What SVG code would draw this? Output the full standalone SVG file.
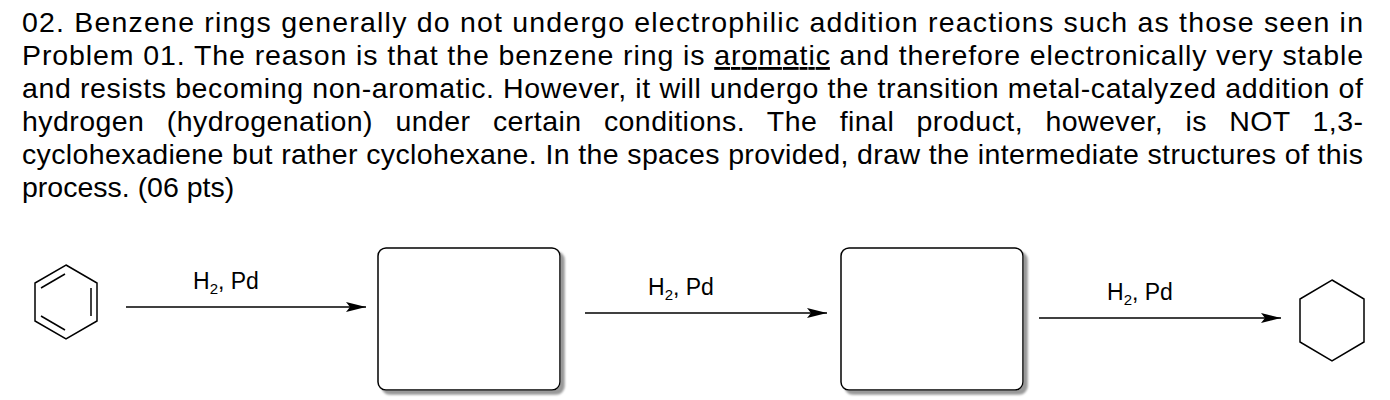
<svg xmlns="http://www.w3.org/2000/svg" width="1390" height="400" viewBox="0 0 1390 400">
<defs>
<marker id="ah" markerWidth="20" markerHeight="10" refX="20" refY="5" orient="auto" markerUnits="userSpaceOnUse"><path d="M0,0 L20,5 L0,10 L4,5 Z" fill="#000"/></marker>
<filter id="sh" x="-10%" y="-10%" width="130%" height="130%"><feDropShadow dx="4" dy="4" stdDeviation="1" flood-color="#999" flood-opacity="1"/></filter>
</defs>
<style>
.t{font-family:"Liberation Sans",Arial,sans-serif;font-size:28.5px;fill:#000}
.l{font-family:"Liberation Sans",Arial,sans-serif;font-size:23px;fill:#000}
.s{fill:none;stroke:#000;stroke-width:1.5}
.box{fill:#fff;stroke:#000;stroke-width:1.5}
</style>
<rect width="1390" height="400" fill="#fff"/>
<g id="question">
<text class="t" x="22" y="32" textLength="1341" lengthAdjust="spacing">02. Benzene rings generally do not undergo electrophilic addition reactions such as those seen in</text>
<text class="t" x="22" y="65" textLength="1341" lengthAdjust="spacing">Problem 01. The reason is that the benzene ring is <tspan text-decoration="underline">aromatic</tspan> and therefore electronically very stable</text>
<text class="t" x="22" y="98" textLength="1341" lengthAdjust="spacing">and resists becoming non-aromatic. However, it will undergo the transition metal-catalyzed addition of</text>
<text class="t" x="22" y="131" word-spacing="14" textLength="1341" lengthAdjust="spacing">hydrogen (hydrogenation) under certain conditions. The final product, however, is NOT 1,3-</text>
<text class="t" x="22" y="164" textLength="1341" lengthAdjust="spacing">cyclohexadiene but rather cyclohexane. In the spaces provided, draw the intermediate structures of this</text>
<text class="t" x="22" y="197">process. (06 pts)</text>
</g>
<g id="benzene">
<polygon class="s" points="66,265 97,283 97,321 66,339 35,321 35,283"/>
<line class="s" x1="41" y1="288" x2="65" y2="274"/>
<line class="s" x1="91" y1="288" x2="91" y2="316"/>
<line class="s" x1="41" y1="316" x2="65" y2="330"/>
</g>
<g id="box1"><rect class="box" x="378" y="248" width="182" height="142" rx="8" filter="url(#sh)"/></g>
<g id="box2"><rect class="box" x="841" y="248" width="182" height="142" rx="8" filter="url(#sh)"/></g>
<g id="cyclohexane">
<polygon class="s" points="1332,280 1364,299 1364,342 1332,361 1300,342 1300,299"/>
</g>
<g id="connectors">
<line class="s" x1="126" y1="307" x2="366" y2="307" marker-end="url(#ah)"/>
<line class="s" x1="585" y1="313" x2="827" y2="313" marker-end="url(#ah)"/>
<line class="s" x1="1039" y1="318" x2="1281" y2="318" marker-end="url(#ah)"/>
</g>
<g id="labels">
<text class="l" x="193" y="289">H<tspan font-size="15" dy="5">2</tspan><tspan dy="-5">, Pd</tspan></text>
<text class="l" x="648" y="295">H<tspan font-size="15" dy="5">2</tspan><tspan dy="-5">, Pd</tspan></text>
<text class="l" x="1107" y="300">H<tspan font-size="15" dy="5">2</tspan><tspan dy="-5">, Pd</tspan></text>
</g>
</svg>
